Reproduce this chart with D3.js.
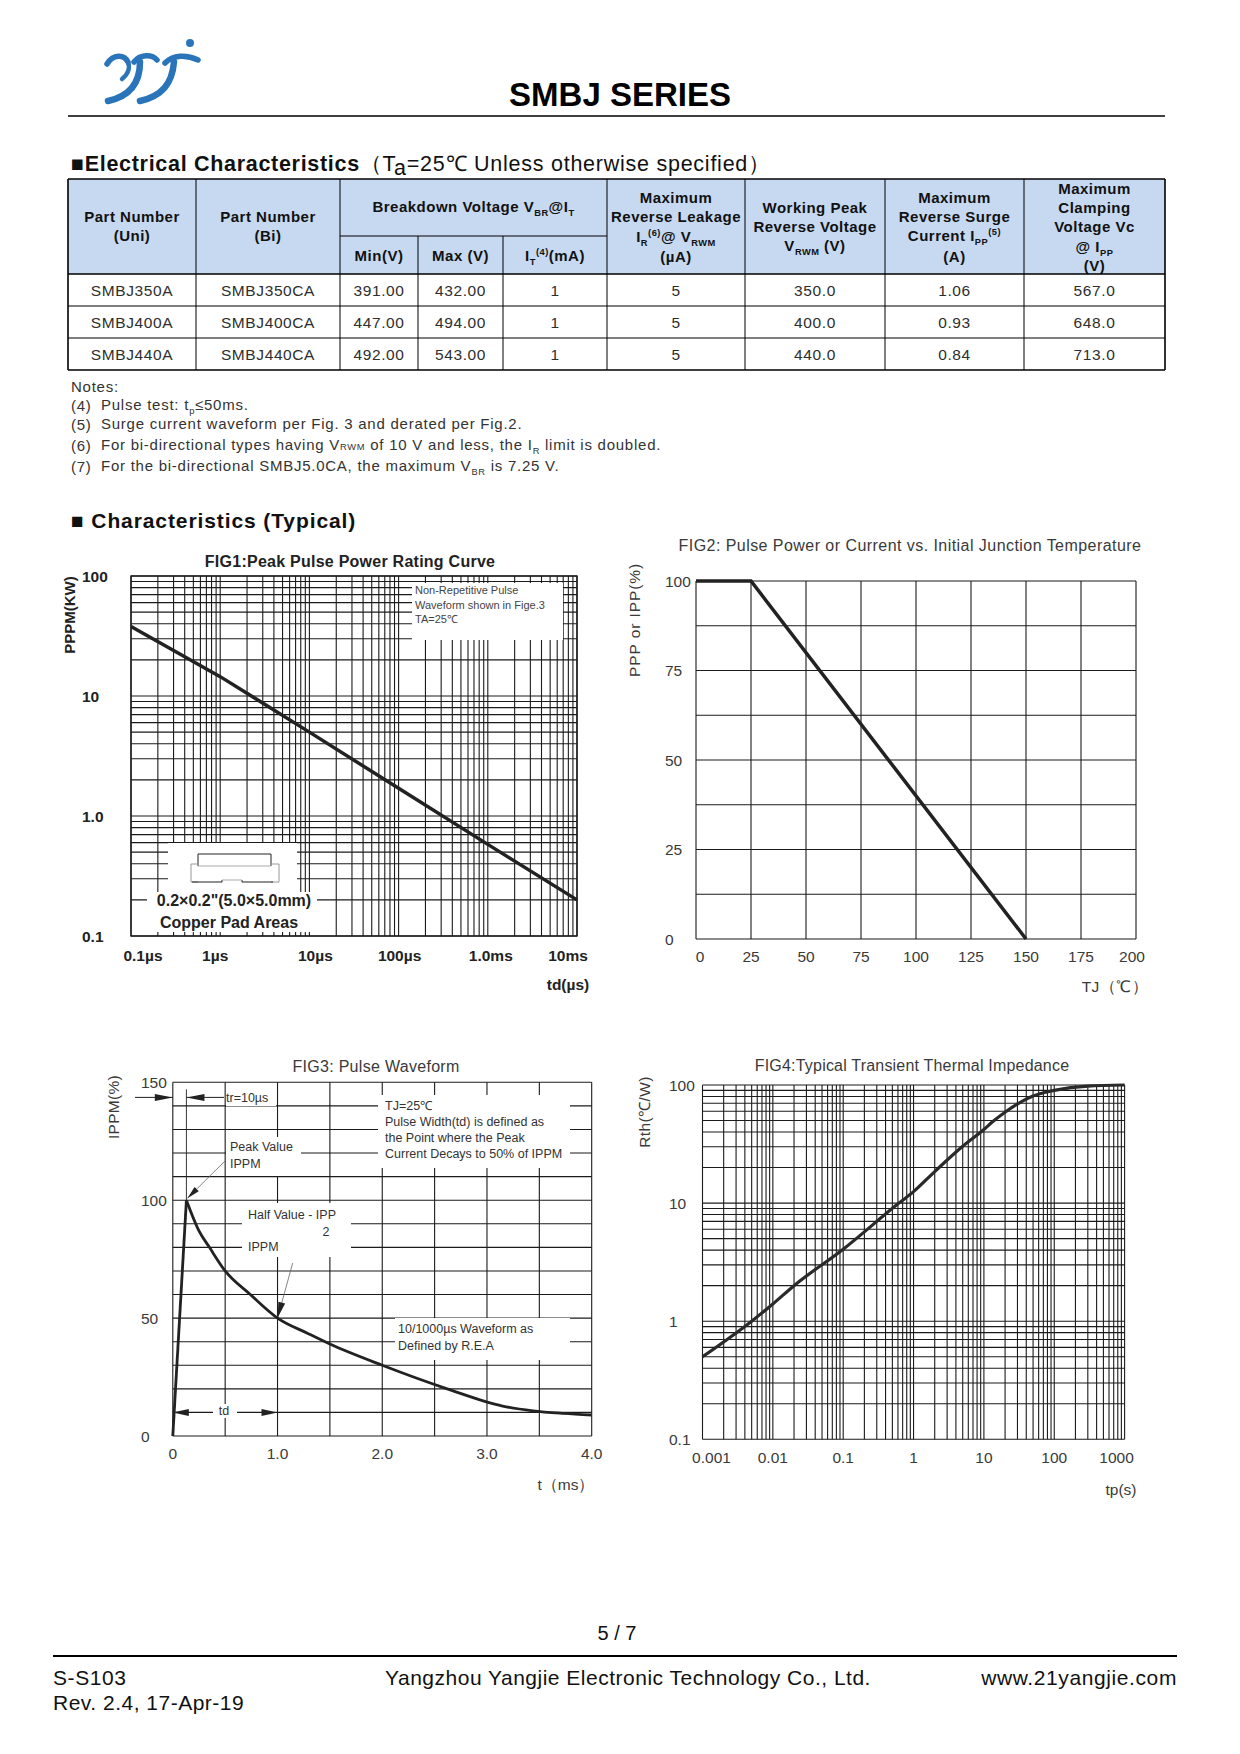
<!DOCTYPE html>
<html>
<head>
<meta charset="utf-8">
<script src="https://cdn.jsdelivr.net/npm/d3@7"></script>
<style>
  body { margin: 0; background: #fff; }
  svg text { font-family: "Liberation Sans", Arial, sans-serif; }
</style>
</head>
<body>
<svg id="page" width="1240" height="1754"></svg>
<script>
// ---- table data ----
const partsUni = ["SMBJ350A", "SMBJ400A", "SMBJ440A"];
const partsBi = ["SMBJ350CA", "SMBJ400CA", "SMBJ440CA"];
const vbrMin = ["391.00", "447.00", "492.00"];
const vbrMax = ["432.00", "494.00", "543.00"];
const itMa = ["1", "1", "1"];
const irUa = ["5", "5", "5"];
const vrwm = ["350.0", "400.0", "440.0"];
const ippA = ["1.06", "0.93", "0.84"];
const vcV = ["567.0", "648.0", "713.0"];

// ---- FIG1: peak pulse power vs pulse width ----
const fig1Td = [0.1, 1, 10, 100, 1000, 10000];     // µs
const fig1Ppk = [38, 14.5, 5.0, 1.7, 0.58, 0.2];   // kW
const fig1XTickVals = [0.1, 1, 10, 100, 1000, 10000];
const fig1XTicks = ["0.1µs", "1µs", "10µs", "100µs", "1.0ms", "10ms"];
const fig1YTickVals = [100, 10, 1, 0.1];
const fig1YTicks = ["100", "10", "1.0", "0.1"];

// ---- FIG2: derating ----
const fig2Tj = [0, 25, 150];
const fig2Pct = [100, 100, 0];
const fig2XTicks = [0, 25, 50, 75, 100, 125, 150, 175, 200];
const fig2YTicks = [0, 25, 50, 75, 100];

// ---- FIG3: pulse waveform ----
const fig3RiseT = [0, 0.13];
const fig3RisePct = [0, 100];
const fig3DecayT = [0.13, 0.25, 0.35, 0.5, 0.74, 1.0, 1.29, 1.5, 2.0, 2.62, 3.15, 3.44, 3.73, 4.0];
const fig3DecayPct = [100, 87, 80, 70, 60, 50, 43.5, 39, 30, 20, 12.7, 10.7, 9.6, 8.9];
const fig3XTickVals = [0, 1, 2, 3, 4];
const fig3XTicks = ["0", "1.0", "2.0", "3.0", "4.0"];
const fig3YTicks = [0, 50, 100, 150];

// ---- FIG4: transient thermal impedance ----
const fig4Tp = [0.001, 0.005, 0.01, 0.02, 0.1, 0.62, 1, 2, 4.9, 10, 13.4, 20.9, 48, 100, 300, 1000];
const fig4Rth = [0.5, 1.0, 1.4, 2.0, 4.07, 10, 12.5, 18.5, 30, 42, 49, 60, 80, 90, 98, 100];
const fig4XTickVals = [0.001, 0.01, 0.1, 1, 10, 100, 1000];
const fig4XTicks = ["0.001", "0.01", "0.1", "1", "10", "100", "1000"];
const fig4YTickVals = [100, 10, 1, 0.1];
const fig4YTicks = ["100", "10", "1", "0.1"];

// label nudges (layout only)
const fig1XNudge = [12, -5, 6, 1, 3, -9];

const svg = d3.select("#page");
const GRID = "#1b1b1b";
const TXT = "#3a3a3a";

function label(g, x, y, str, o = {}) {
    return g.append("text")
        .attr("x", x).attr("y", y)
        .attr("text-anchor", o.anchor || "start")
        .attr("font-size", o.size || 14)
        .attr("font-weight", o.weight || "normal")
        .attr("letter-spacing", o.ls || 0)
        .attr("fill", o.fill || "#111")
        .text(str);
}

// segments: [text, mode] with mode "", "sub", "sup", "small"
function rich(g, x, y, segs, o = {}) {
    const size = o.size || 14;
    const t = g.append("text")
        .attr("x", x).attr("y", y)
        .attr("text-anchor", o.anchor || "middle")
        .attr("font-size", size)
        .attr("font-weight", o.weight || "normal")
        .attr("letter-spacing", o.ls || 0)
        .attr("fill", o.fill || "#111");
    let shift = 0;
    segs.forEach(([s, m]) => {
        const target = m === "sub" ? size * 0.28 : m === "sup" ? -size * 0.42 : 0;
        t.append("tspan")
            .attr("dy", target - shift)
            .attr("font-size", m ? size * 0.62 : size)
            .text(s);
        shift = target;
    });
    return t;
}

// ---------------- header ----------------
const logo = svg.append("g").attr("fill", "none").attr("stroke", "#2a74ba").attr("stroke-linecap", "round");
logo.append("path").attr("stroke-width", 5.5).attr("d", "M107,64 C113,54 124,54 128,62");
logo.append("path").attr("stroke-width", 4.5).attr("d", "M128,62 C131,70 126,76 122,79");
logo.append("path").attr("stroke-width", 5.5).attr("d", "M134,62 C140,54 152,54 157,60");
logo.append("path").attr("stroke-width", 6.5).attr("d", "M140,62 C140,82 131,96 108,101");
logo.append("path").attr("stroke-width", 5.5).attr("d", "M165,63 C173,55 186,54 198,60");
logo.append("path").attr("stroke-width", 6.5).attr("d", "M174,62 C172,84 162,96 140,101");
svg.append("circle").attr("cx", 190).attr("cy", 43).attr("r", 4).attr("fill", "#2a74ba");

label(svg, 620, 106, "SMBJ SERIES", { anchor: "middle", size: 33, weight: "bold", fill: "#000" });
svg.append("line").attr("x1", 68).attr("x2", 1165).attr("y1", 116).attr("y2", 116)
    .attr("stroke", "#000").attr("stroke-width", 1.5);

const h1 = svg.append("text").attr("x", 71).attr("y", 171).attr("font-size", 21.5).attr("fill", "#111");
h1.append("tspan").attr("font-weight", "bold").attr("letter-spacing", 0.7).text("■Electrical Characteristics");
h1.append("tspan").attr("letter-spacing", 0.75).text("（T");
h1.append("tspan").attr("dy", 4).attr("letter-spacing", 0.75).text("a");
h1.append("tspan").attr("dy", -4).attr("letter-spacing", 0.75).text("=25℃ Unless otherwise specified）");

// ---------------- table ----------------
const colX = [68, 196, 340, 418, 503, 607, 745, 885, 1024, 1165];
const tTop = 179, tSub = 236, tHead = 274, rowH = 32;
const table = svg.append("g");
table.append("rect").attr("x", colX[0]).attr("y", tTop)
    .attr("width", colX[9] - colX[0]).attr("height", tHead - tTop).attr("fill", "#c6d9f1");

const cx = i => (colX[i] + colX[i + 1]) / 2;
const hOpt = { size: 15, weight: "bold", ls: 0.5, fill: "#111" };
const headCells = [
    [0, [[[["Part Number", ""]], 222], [[["(Uni)", ""]], 241]]],
    [1, [[[["Part Number", ""]], 222], [[["(Bi)", ""]], 241]]],
    [2, [[[["Min(V)", ""]], 261]]],
    [3, [[[["Max (V)", ""]], 261]]],
    [4, [[[["I", ""], ["T", "sub"], ["(4)", "sup"], ["(mA)", ""]], 261]]],
    [5, [[[["Maximum", ""]], 203], [[["Reverse Leakage", ""]], 222],
         [[["I", ""], ["R", "sub"], ["(6)", "sup"], ["@ V", ""], ["RWM", "sub"]], 242], [[["(µA)", ""]], 262]]],
    [6, [[[["Working Peak", ""]], 213], [[["Reverse Voltage", ""]], 232],
         [[["V", ""], ["RWM", "sub"], [" (V)", ""]], 251]]],
    [7, [[[["Maximum", ""]], 203], [[["Reverse Surge", ""]], 222],
         [[["Current I", ""], ["PP", "sub"], ["(5)", "sup"]], 241], [[["(A)", ""]], 262]]],
    [8, [[[["Maximum", ""]], 194], [[["Clamping", ""]], 213], [[["Voltage Vc", ""]], 232],
         [[["@ I", ""], ["PP", "sub"]], 252], [[["(V)", ""]], 271]]]
];
headCells.forEach(([c, lines]) => lines.forEach(([segs, y]) => rich(table, cx(c), y, segs, hOpt)));
rich(table, (colX[2] + colX[5]) / 2, 212,
    [["Breakdown Voltage V", ""], ["BR", "sub"], ["@I", ""], ["T", "sub"]], hOpt);

const rows = partsUni.map((p, i) => [p, partsBi[i], vbrMin[i], vbrMax[i], itMa[i], irUa[i], vrwm[i], ippA[i], vcV[i]]);
rows.forEach((r, i) => {
    r.forEach((v, c) => label(table, cx(c), tHead + rowH * i + 22, v,
        { anchor: "middle", size: 15.5, ls: 0.6, fill: "#2e2e2e" }));
});

const tBottom = tHead + rowH * rows.length;
const tl = table.append("g").attr("stroke", "#000");
[tTop, tHead, tBottom].forEach(y => tl.append("line").attr("x1", colX[0]).attr("x2", colX[9])
    .attr("y1", y).attr("y2", y).attr("stroke-width", 1.6));
d3.range(1, rows.length).forEach(i => tl.append("line").attr("x1", colX[0]).attr("x2", colX[9])
    .attr("y1", tHead + rowH * i).attr("y2", tHead + rowH * i).attr("stroke-width", 1));
tl.append("line").attr("x1", colX[2]).attr("x2", colX[5]).attr("y1", tSub).attr("y2", tSub).attr("stroke-width", 1);
colX.forEach((x, i) => {
    const y1 = (i === 3 || i === 4) ? tSub : tTop;
    tl.append("line").attr("x1", x).attr("x2", x).attr("y1", y1).attr("y2", tBottom)
        .attr("stroke-width", (i === 0 || i === 9) ? 1.6 : 1);
});

// ---------------- notes ----------------
const nOpt = { anchor: "start", size: 15, ls: 0.75, fill: "#333" };
label(svg, 71, 392, "Notes:", nOpt);
const notes = [
    ["(4)", [["Pulse test: t", ""], ["p", "sub"], ["≤50ms.", ""]], 410],
    ["(5)", [["Surge current waveform per Fig. 3 and derated per Fig.2.", ""]], 429],
    ["(6)", [["For bi-directional types having V", ""], ["RWM", "small"], [" of 10 V and less, the I", ""], ["R", "sub"], [" limit is doubled.", ""]], 450],
    ["(7)", [["For the bi-directional SMBJ5.0CA, the maximum V", ""], ["BR", "sub"], [" is 7.25 V.", ""]], 471]
];
notes.forEach(([n, segs, y]) => {
    label(svg, 71, y + 1, n, nOpt);
    rich(svg, 101, y, segs, nOpt);
});

label(svg, 71, 528, "■ Characteristics (Typical)", { size: 21, weight: "bold", ls: 0.9, fill: "#111" });

// ---------------- FIG1 ----------------
const x1 = d3.scaleLog().domain([0.1, 10000]).range([131, 577]);
const y1 = d3.scaleLog().domain([0.1, 100]).range([936, 576]);
const f1 = svg.append("g");
f1.append("g").selectAll("line").data(x1.ticks()).join("line")
    .attr("x1", d => x1(d)).attr("x2", d => x1(d)).attr("y1", y1(100)).attr("y2", y1(0.1))
    .attr("stroke", GRID).attr("stroke-width", 1.1);
f1.append("g").selectAll("line").data(y1.ticks()).join("line")
    .attr("y1", d => y1(d)).attr("y2", d => y1(d)).attr("x1", x1(0.1)).attr("x2", x1(10000))
    .attr("stroke", GRID).attr("stroke-width", 1.1);
f1.append("rect").attr("x", x1(0.1)).attr("y", y1(100)).attr("width", x1(10000) - x1(0.1))
    .attr("height", y1(0.1) - y1(100)).attr("fill", "none").attr("stroke", GRID).attr("stroke-width", 1.4);

// inset boxes
f1.append("rect").attr("x", 412).attr("y", 583).attr("width", 151).attr("height", 57).attr("fill", "#fff");
f1.append("rect").attr("x", 168).attr("y", 843).attr("width", 129).attr("height", 50).attr("fill", "#fff");
f1.append("rect").attr("x", 147).attr("y", 892).attr("width", 170).attr("height", 40).attr("fill", "#fff");
["Non-Repetitive Pulse", "Waveform shown in Fige.3", "TA=25℃"].forEach((s, i) =>
    label(f1, 415, 594 + i * 14.5, s, { size: 11, fill: "#444" }));

// package sketch
const pk = f1.append("g").attr("fill", "none").attr("stroke-width", 1);
pk.append("path").attr("stroke", "#222").attr("d", "M198,866 V854 H271 V866");
pk.append("path").attr("stroke", "#999").attr("d", "M198,864 H191 V882 H198 M271,864 H279 V882 H271");
pk.append("path").attr("stroke", "#222").attr("d", "M192,882 H222 V880 M242,880 V882 H273");
pk.append("path").attr("stroke", "#aaa").attr("d", "M222,880 H242 M198,866 H271");
label(f1, 234, 906, "0.2×0.2\"(5.0×5.0mm)", { anchor: "middle", size: 16, weight: "bold", fill: "#222" });
label(f1, 229, 928, "Copper Pad Areas", { anchor: "middle", size: 16, weight: "bold", fill: "#222" });

f1.append("path")
    .datum(fig1Td.map((d, i) => [d, fig1Ppk[i]]))
    .attr("fill", "none").attr("stroke", "#222").attr("stroke-width", 3.5)
    .attr("d", d3.line().x(d => x1(d[0])).y(d => y1(d[1])));

label(f1, 350, 567, "FIG1:Peak Pulse Power Rating Curve", { anchor: "middle", size: 16, weight: "bold", ls: 0.25, fill: "#222" });
f1.append("text").attr("transform", "translate(75,615) rotate(-90)").attr("text-anchor", "middle")
    .attr("font-size", 15).attr("font-weight", "bold").attr("fill", "#222").text("PPPM(KW)");
fig1YTickVals.forEach((v, i) => label(f1, 82, y1(v) + 5.5, fig1YTicks[i], { size: 15.5, weight: "bold", fill: "#222" }));
fig1XTickVals.forEach((v, i) => label(f1, x1(v) + fig1XNudge[i], 961, fig1XTicks[i],
    { anchor: "middle", size: 15.5, weight: "bold", fill: "#222" }));
label(f1, 568, 990, "td(µs)", { anchor: "middle", size: 15.5, weight: "bold", fill: "#222" });

// ---------------- FIG2 ----------------
const x2 = d3.scaleLinear().domain([0, 200]).range([696, 1136]);
const y2 = d3.scaleLinear().domain([0, 100]).range([939, 581]);
const f2 = svg.append("g");
f2.append("g").selectAll("line").data(d3.range(0, 201, 25)).join("line")
    .attr("x1", d => x2(d)).attr("x2", d => x2(d)).attr("y1", y2(0)).attr("y2", y2(100))
    .attr("stroke", GRID).attr("stroke-width", 1.1);
f2.append("g").selectAll("line").data(d3.range(0, 100.1, 12.5)).join("line")
    .attr("y1", d => y2(d)).attr("y2", d => y2(d)).attr("x1", x2(0)).attr("x2", x2(200))
    .attr("stroke", GRID).attr("stroke-width", 1.1);
f2.append("path")
    .datum(fig2Tj.map((d, i) => [d, fig2Pct[i]]))
    .attr("fill", "none").attr("stroke", "#222").attr("stroke-width", 3.5)
    .attr("d", d3.line().x(d => x2(d[0])).y(d => y2(d[1])));
label(f2, 910, 551, "FIG2: Pulse Power or Current vs. Initial Junction Temperature",
    { anchor: "middle", size: 16, ls: 0.45, fill: TXT });
f2.append("text").attr("transform", "translate(640,620) rotate(-90)").attr("text-anchor", "middle")
    .attr("font-size", 15.5).attr("fill", TXT).attr("letter-spacing", 0.9).text("PPP or IPP(%)");
fig2YTicks.forEach(v => label(f2, 665, y2(v) + 5.5, String(v), { size: 15.5, fill: TXT }));
fig2XTicks.forEach((v, i) => label(f2, x2(v) + (i === 0 ? 4 : i === fig2XTicks.length - 1 ? -4 : 0), 962, String(v),
    { anchor: "middle", size: 15.5, fill: TXT }));
label(f2, 1115, 992, "TJ（℃）", { anchor: "middle", size: 15.5, ls: 0.5, fill: TXT });

// ---------------- FIG3 ----------------
const x3 = d3.scaleLinear().domain([0, 4]).range([172.8, 591.7]);
const y3 = d3.scaleLinear().domain([0, 150]).range([1436, 1082.3]);
const f3 = svg.append("g");
f3.append("g").selectAll("line").data(d3.range(0, 4.01, 0.5)).join("line")
    .attr("x1", d => x3(d)).attr("x2", d => x3(d)).attr("y1", y3(0)).attr("y2", y3(150))
    .attr("stroke", GRID).attr("stroke-width", 1.1);
f3.append("g").selectAll("line").data(d3.range(0, 150.1, 10)).join("line")
    .attr("y1", d => y3(d)).attr("y2", d => y3(d)).attr("x1", x3(0)).attr("x2", x3(4))
    .attr("stroke", GRID).attr("stroke-width", 1.1);

// white label areas
[[226, 1087, 50, 19], [226, 1137, 75, 39], [242, 1203, 109, 54], [378, 1095, 192, 73],
 [395, 1318, 175, 42], [213, 1404, 24, 14]].forEach(([x, y, w, h]) =>
    f3.append("rect").attr("x", x).attr("y", y).attr("width", w).attr("height", h).attr("fill", "#fff"));

const aOpt = { size: 12.5, fill: "#333" };
label(f3, 226, 1101.5, "tr=10µs", aOpt);
label(f3, 230, 1150.5, "Peak Value", aOpt);
label(f3, 230, 1167.5, "IPPM", aOpt);
label(f3, 248, 1218.5, "Half Value - IPP", aOpt);
label(f3, 326, 1235.5, "2", { ...aOpt, anchor: "middle" });
label(f3, 248, 1250.5, "IPPM", aOpt);
["TJ=25℃", "Pulse Width(td) is defined as", "the Point where the Peak", "Current Decays to 50% of IPPM"]
    .forEach((s, i) => label(f3, 385, 1109.5 + i * 16.3, s, aOpt));
label(f3, 398, 1332.5, "10/1000µs Waveform as", aOpt);
label(f3, 398, 1349.5, "Defined by R.E.A", aOpt);
label(f3, 224, 1414.5, "td", { ...aOpt, anchor: "middle" });

function arrowHead(g, tip, from, len, half) {
    const dx = from[0] - tip[0], dy = from[1] - tip[1];
    const L = Math.hypot(dx, dy), ux = dx / L, uy = dy / L;
    const bx = tip[0] + ux * len, by = tip[1] + uy * len;
    g.append("path").attr("fill", "#222")
        .attr("d", `M${tip[0]},${tip[1]} L${bx - uy * half},${by + ux * half} L${bx + uy * half},${by - ux * half} Z`);
}
const arr = f3.append("g");
const ann = (a, b, w = 1, c = "#222") => arr.append("line").attr("x1", a[0]).attr("y1", a[1])
    .attr("x2", b[0]).attr("y2", b[1]).attr("stroke", c).attr("stroke-width", w);

const yTr = y3(143.6);
ann([135, yTr], [x3(0), yTr]);
arrowHead(arr, [x3(0), yTr], [135, yTr], 18, 3.5);
ann([x3(0.13), yTr], [224, yTr]);
arrowHead(arr, [x3(0.13), yTr], [224, yTr], 18, 3.5);
ann([x3(0.13), y3(147)], [x3(0.13), y3(100)], 0.9);
const peakTip = [x3(0.13) + 1, y3(100) - 2];
ann([226, 1160], peakTip, 0.8, "#666");
arrowHead(arr, peakTip, [226, 1160], 13, 3);
const halfTip = [x3(1.0), y3(50)];
ann([292.7, 1263], halfTip, 0.8, "#666");
arrowHead(arr, halfTip, [292.7, 1263], 16, 3.5);
const yTd = y3(10);
arrowHead(arr, [x3(0), yTd], [x3(1), yTd], 16, 3.5);
arrowHead(arr, [x3(1), yTd], [x3(0), yTd], 16, 3.5);

const l3 = d3.line().x(d => x3(d[0])).y(d => y3(d[1]));
f3.append("path").datum(fig3RiseT.map((d, i) => [d, fig3RisePct[i]]))
    .attr("fill", "none").attr("stroke", "#222").attr("stroke-width", 2.8).attr("d", l3);
f3.append("path").datum(fig3DecayT.map((d, i) => [d, fig3DecayPct[i]]))
    .attr("fill", "none").attr("stroke", "#222").attr("stroke-width", 2.8)
    .attr("d", l3.curve(d3.curveMonotoneX));

label(f3, 376, 1072, "FIG3: Pulse Waveform", { anchor: "middle", size: 16, ls: 0.3, fill: TXT });
f3.append("text").attr("transform", "translate(119,1107) rotate(-90)").attr("text-anchor", "middle")
    .attr("font-size", 15.5).attr("fill", TXT).attr("letter-spacing", 0.3).text("IPPM(%)");
fig3YTicks.forEach(v => label(f3, 141, y3(v) + 5.5, String(v), { size: 15.5, fill: TXT }));
fig3XTickVals.forEach((v, i) => label(f3, x3(v), 1458.5, fig3XTicks[i], { anchor: "middle", size: 15.5, fill: TXT }));
label(f3, 566, 1490, "t（ms）", { anchor: "middle", size: 15.5, fill: TXT });

// ---------------- FIG4 ----------------
const x4 = d3.scaleLog().domain([0.001, 1000]).range([702.5, 1124.6]);
const y4 = d3.scaleLog().domain([0.1, 100]).range([1439.3, 1085]);
const f4 = svg.append("g");
f4.append("g").selectAll("line").data(x4.ticks()).join("line")
    .attr("x1", d => x4(d)).attr("x2", d => x4(d)).attr("y1", y4(0.1)).attr("y2", y4(100))
    .attr("stroke", GRID).attr("stroke-width", 1.1);
f4.append("g").selectAll("line").data(y4.ticks()).join("line")
    .attr("y1", d => y4(d)).attr("y2", d => y4(d)).attr("x1", x4(0.001)).attr("x2", x4(1000))
    .attr("stroke", GRID).attr("stroke-width", 1.1);
f4.append("path")
    .datum(fig4Tp.map((d, i) => [d, fig4Rth[i]]))
    .attr("fill", "none").attr("stroke", "#2a2a2a").attr("stroke-width", 3.2)
    .attr("d", d3.line().x(d => x4(d[0])).y(d => y4(d[1])).curve(d3.curveMonotoneX));
label(f4, 912, 1071, "FIG4:Typical Transient Thermal Impedance", { anchor: "middle", size: 16, ls: 0.2, fill: TXT });
f4.append("text").attr("transform", "translate(650,1112) rotate(-90)").attr("text-anchor", "middle")
    .attr("font-size", 15.5).attr("fill", TXT).attr("letter-spacing", 0.4).text("Rth(℃/W)");
fig4YTickVals.forEach((v, i) => label(f4, 669, y4(v) + 5.5, fig4YTicks[i], { size: 15.5, fill: TXT }));
fig4XTickVals.forEach((v, i) => label(f4, x4(v) + (i === 0 ? 9 : i === fig4XTicks.length - 1 ? -8 : 0), 1462.5,
    fig4XTicks[i], { anchor: "middle", size: 15.5, fill: TXT }));
label(f4, 1121, 1495, "tp(s)", { anchor: "middle", size: 15.5, fill: TXT });

// ---------------- footer ----------------
label(svg, 617, 1640, "5 / 7", { anchor: "middle", size: 20, fill: "#111" });
svg.append("line").attr("x1", 53).attr("x2", 1177).attr("y1", 1656).attr("y2", 1656)
    .attr("stroke", "#000").attr("stroke-width", 2);
label(svg, 53, 1685, "S-S103", { size: 21, fill: "#111", ls: 0.6 });
label(svg, 53, 1710, "Rev. 2.4, 17-Apr-19", { size: 21, fill: "#111", ls: 0.5 });
label(svg, 628, 1685, "Yangzhou Yangjie Electronic Technology Co., Ltd.", { anchor: "middle", size: 21, fill: "#111", ls: 0.5 });
label(svg, 1177, 1685, "www.21yangjie.com", { anchor: "end", size: 21, fill: "#111", ls: 0.6 });
</script>
</body>
</html>
